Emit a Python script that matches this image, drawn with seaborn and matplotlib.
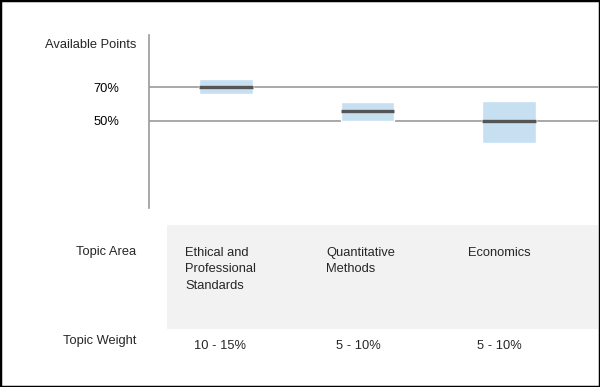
import numpy as np
import pandas as pd
import seaborn as sns
import matplotlib.pyplot as plt
from matplotlib.patches import Rectangle
from matplotlib.transforms import blended_transform_factory

# values (percent of available points)
topics = ['Ethical and\nProfessional\nStandards', 'Quantitative\nMethods', 'Economics']
weights = ['10 - 15%', '5 - 10%', '5 - 10%']
low = [66, 50, 37]
high = [75, 61, 62]
median = [70, 56, 50]
ref_lines = [50, 70]

df = pd.DataFrame({'topic': topics, 'low': low, 'high': high, 'median': median})
df['span'] = df['high'] - df['low']

sns.set_theme(style='white')
plt.rcParams['font.family'] = ['Liberation Sans', 'DejaVu Sans']
FS = 9.3
W, H = 600, 387

fig = plt.figure(figsize=(6, 3.87), dpi=100)
ax = fig.add_axes([149 / W, 1 - 208 / H, 449 / W, 173 / H])

for v in ref_lines:
    ax.axhline(v, color='#9a9a9a', lw=1.2, zorder=1)

xs = np.arange(len(df))
ax.bar(xs, df['span'], bottom=df['low'], width=0.38, color='#c6e0f2', zorder=2)
ax.hlines(df['median'], xs - 0.19, xs + 0.19, color='#555555', lw=2.4, zorder=3)

ax.set_xlim(-0.544, 2.629)
ax.set_ylim(-1.2, 100.6)
ax.set_xticks([])
ax.set_yticks(ref_lines)
ax.set_yticklabels([f'{v}%' for v in ref_lines], fontsize=FS, color='black')
ax.tick_params(axis='y', length=0, pad=21.6)
sns.despine(ax=ax, bottom=True)
ax.spines['left'].set_color('#9a9a9a')
ax.spines['left'].set_linewidth(1.2)

fig.text(136 / W, 1 - 45 / H, 'Available Points', ha='right', va='center', fontsize=FS)

# table underneath
fig.patches.append(Rectangle((167 / W, 1 - 329 / H), 431 / W, 104 / H,
                             transform=fig.transFigure, facecolor='#f2f2f2',
                             edgecolor='none', zorder=0))
fig.text(136 / W, 1 - 252 / H, 'Topic Area', ha='right', va='center', fontsize=FS)
fig.text(136 / W, 1 - 341 / H, 'Topic Weight', ha='right', va='center', fontsize=FS)

tr = blended_transform_factory(ax.transData, fig.transFigure)
for x, t, w in zip(xs, df['topic'], weights):
    fig.text(x - 0.29, 1 - 247 / H, t, ha='left', va='top', fontsize=FS,
             linespacing=1.5, transform=tr)
    fig.text(x - 0.226, 1 - 346 / H, w, ha='left', va='center', fontsize=FS,
             transform=tr)

fig.patches.append(Rectangle((0, 0), 1, 1, transform=fig.transFigure,
                             facecolor='none', edgecolor='black', lw=2.5, zorder=10))

fig.savefig('out.png', dpi=100)
